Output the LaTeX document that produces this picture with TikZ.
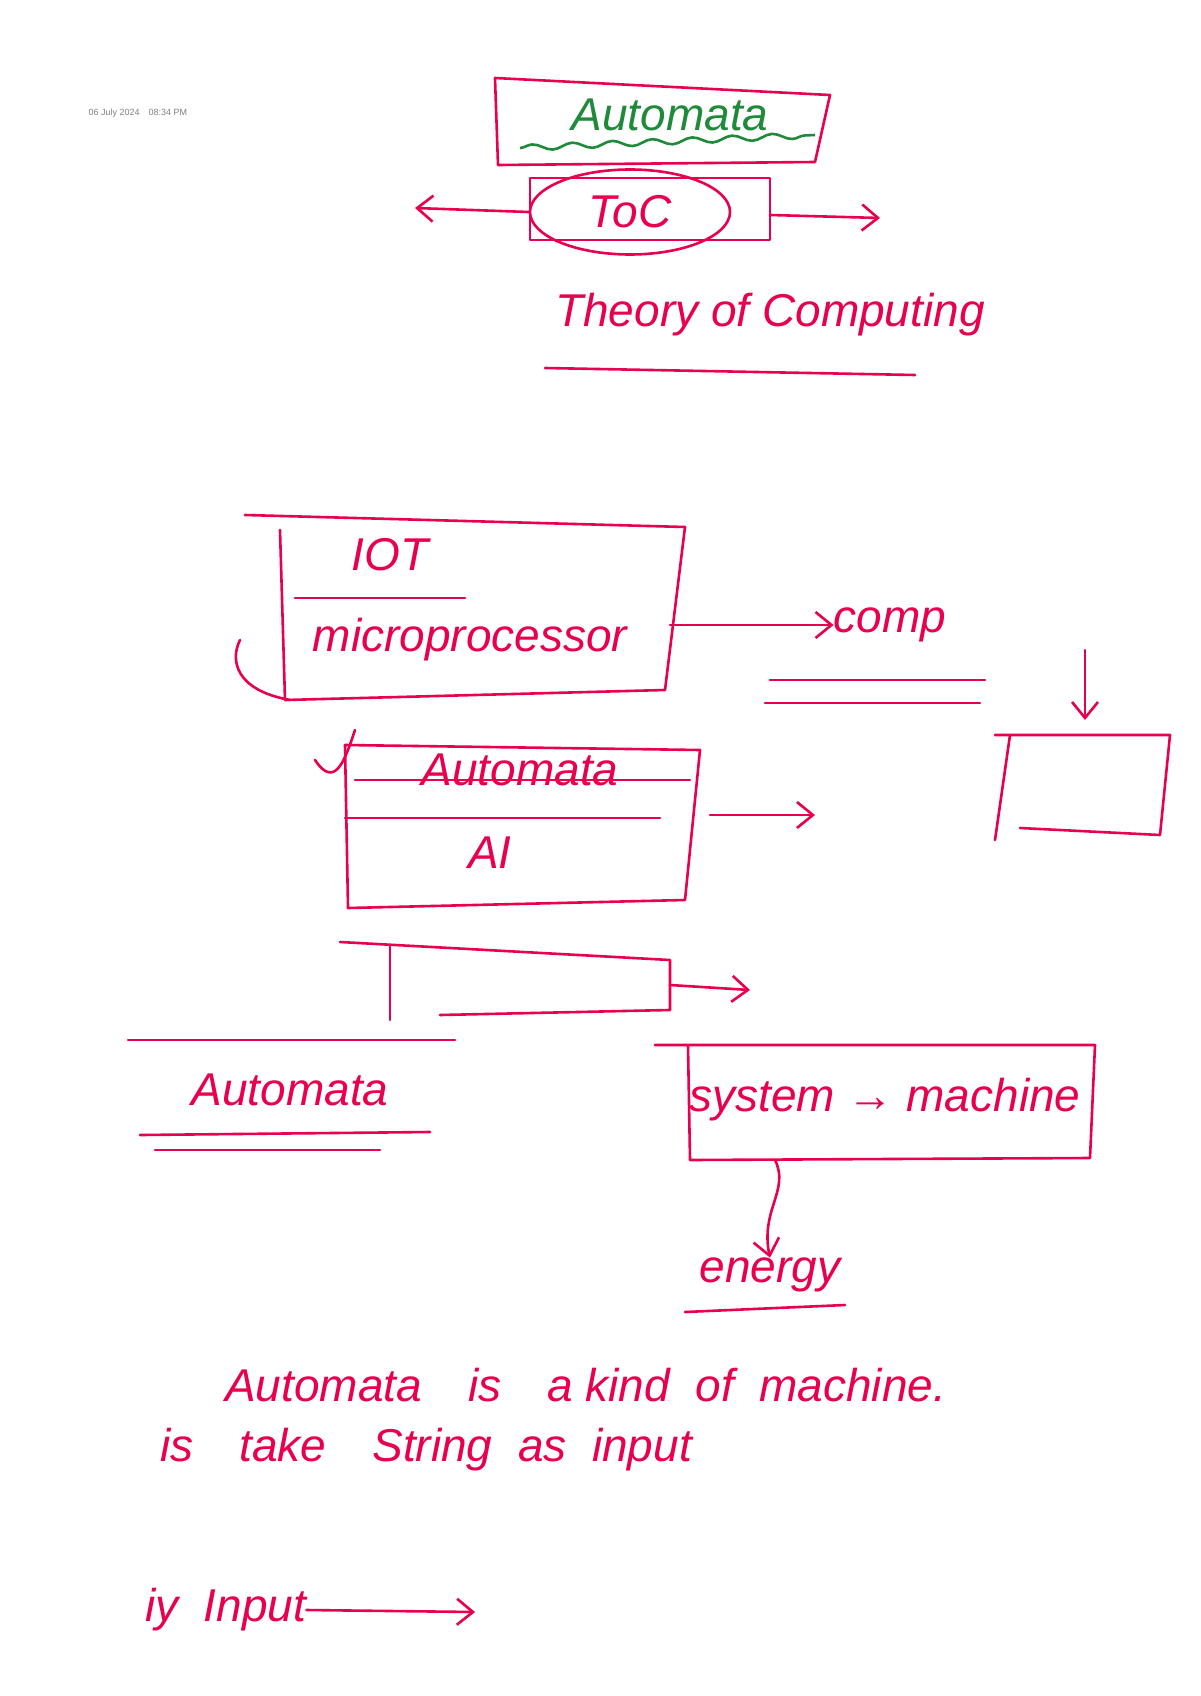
\documentclass[tikz,border=0pt]{standalone}
\usepackage{fontspec}
\setmainfont{Liberation Sans}
\usetikzlibrary{arrows.meta,decorations.pathmorphing,shapes.geometric}
\definecolor{ink}{HTML}{E8004C}
\definecolor{inkgreen}{HTML}{1E8A3A}
\begin{document}
\begin{tikzpicture}[x=1pt,y=-1pt,
  pen/.style={draw=ink,line width=2.6pt,line cap=round,line join=round},
  arr/.style={pen,-{Straight Barb[length=16pt,width=26pt]}},
  hw/.style={text=ink,font=\itshape\fontsize{46}{50}\selectfont,inner sep=0pt}]
\useasboundingbox (0,0) rectangle (1200,1696);
\node[text=gray,font=\fontsize{9}{10}\selectfont,anchor=west] (date) at (85,113) {06 July 2024\quad 08:34 PM};
% top
\draw[pen] (495,78) -- (830,95) -- (815,162) -- (498,165) -- cycle;
\node[text=inkgreen,font=\itshape\fontsize{46}{50}\selectfont] (auto1) at (670,115) {Automata};
\draw[draw=inkgreen,line width=2.6pt,decorate,decoration={snake,amplitude=3pt,segment length=40pt}] (520,148) -- (815,135);
\node[hw,draw=ink,line width=2.6pt,ellipse,minimum width=200pt,minimum height=85pt] (toc) at (630,212) {ToC};
\draw[pen] (530,178) rectangle (770,240);
\coordinate (tl) at (415,208); \coordinate (tr) at (880,218);
\draw[arr] (toc.west) -- (tl);
\draw[arr] (770,215) -- (tr);
\node[hw] (theory) at (770,315) {Theory of Computing};
\draw[pen] (545,368) -- (915,375);
% IOT
\draw[pen] (245,515) -- (685,527);
\draw[pen] (685,527) -- (665,690) -- (285,700) -- (280,530);
\draw[pen] (240,640) .. controls (230,660) and (235,690) .. (290,700);
\node[hw] (iot) at (390,555) {IOT};
\draw[pen] (295,598) -- (465,598);
\node[hw] (micro) at (470,640) {microprocessor};
\node[hw] (comp) at (890,625) {comp};
\draw[arr] (670,625) -- (comp.west);
\draw[pen] (770,680) -- (985,680); \draw[pen] (765,703) -- (980,703);
\coordinate (dtop) at (1085,650); \coordinate (dbot) at (1085,720);
\draw[arr] (dtop) -- (dbot);
\draw[pen] (995,735) -- (1170,735) -- (1160,835) -- (1020,828);
\draw[pen] (1010,735) -- (995,840);
% Automata AI
\draw[pen] (345,745) -- (700,750) -- (685,900) -- (348,908) -- cycle;
\node[hw] (auto2) at (520,770) {Automata};
\draw[pen] (355,780) -- (690,780);
\draw[pen] (315,760) .. controls (335,790) and (345,760) .. (355,730);
\draw[pen] (345,818) -- (660,818);
\node[hw] (ai) at (490,853) {AI};
\coordinate (aiend) at (815,815);
\draw[arr] (710,815) -- (aiend);
% bracket
\draw[pen] (340,942) -- (670,960) -- (670,1010) -- (440,1015);
\draw[pen] (390,945) -- (390,1020);
\coordinate (brk) at (750,990);
\draw[arr] (670,985) -- (brk);
% bottom
\draw[pen] (128,1040) -- (455,1040);
\node[hw] (auto3) at (290,1090) {Automata};
\draw[pen] (140,1135) -- (430,1132); \draw[pen] (155,1150) -- (380,1150);
\draw[pen] (655,1045) -- (1095,1045) -- (1090,1158) -- (690,1160) -- (688,1045);
\node[hw] (sys) at (885,1100) {system → machine};
\node[hw] (energy) at (770,1275) {energy};
\draw[arr] (775,1160) .. controls (790,1190) and (760,1210) .. (energy.north);
\draw[pen] (685,1312) -- (845,1305);
\node[hw,anchor=west] (s1) at (225,1385) {Automata\quad is\quad a\ kind\ \ of\ \ machine.};
\node[hw,anchor=west] (s2) at (160,1450) {is\quad take\quad String\ \ as\ \ input};
\node[hw,anchor=west] (s3) at (145,1610) {iy\ \ Input};
\coordinate (s3e) at (475,1612);
\draw[arr] (s3.east) -- (s3e);
\end{tikzpicture}
\end{document}
